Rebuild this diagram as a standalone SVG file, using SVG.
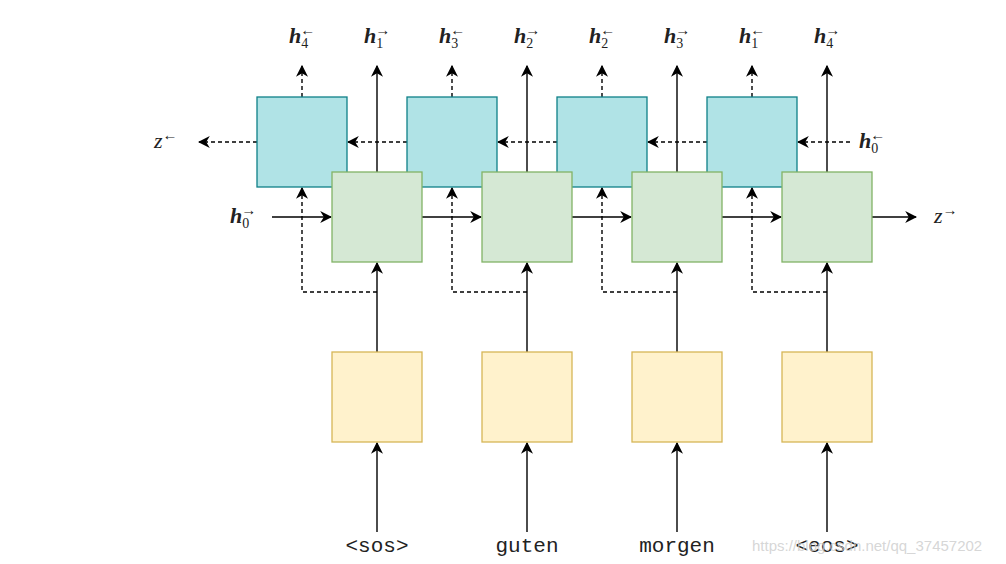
<svg xmlns="http://www.w3.org/2000/svg" width="1006" height="564" viewBox="0 0 1006 564">
<style>
.b{fill:#b0e3e6;stroke:#0e8088;stroke-width:1.3}
.g{fill:#d5e8d4;stroke:#82b366;stroke-width:1.3}
.y{fill:#fff2cc;stroke:#d6b656;stroke-width:1.3}
.s{stroke:#000;stroke-width:1.4;fill:none}
.d{stroke:#000;stroke-width:1.4;fill:none;stroke-dasharray:4 3}
.m{font-family:"Liberation Serif",serif;font-style:italic;font-weight:bold;font-size:22px;fill:#222}
.sub{font-style:normal;font-weight:normal;font-size:14px}
.ar{font-style:normal;font-weight:normal;font-size:15px}
.w{font-family:"Liberation Mono",monospace;font-size:21px;fill:#222}
</style>
<defs>
<marker id="a" viewBox="0 0 10 10" refX="9" refY="5" markerWidth="12" markerHeight="12" orient="auto" markerUnits="userSpaceOnUse"><path d="M0,0 L10,5 L0,10 L3,5 Z" fill="#000"/></marker>
</defs>
<rect width="1006" height="564" fill="#fff"/>
<g id="connectors">
<path class="d" d="M302,97V66" marker-end="url(#a)"/>
<path class="d" d="M452,97V66" marker-end="url(#a)"/>
<path class="d" d="M602,97V66" marker-end="url(#a)"/>
<path class="d" d="M752,97V66" marker-end="url(#a)"/>
<path class="s" d="M377,172V66" marker-end="url(#a)"/>
<path class="s" d="M527,172V66" marker-end="url(#a)"/>
<path class="s" d="M677,172V66" marker-end="url(#a)"/>
<path class="s" d="M827,172V66" marker-end="url(#a)"/>
<path class="d" d="M850,142H798" marker-end="url(#a)"/>
<path class="d" d="M707,142H648" marker-end="url(#a)"/>
<path class="d" d="M557,142H498" marker-end="url(#a)"/>
<path class="d" d="M407,142H348" marker-end="url(#a)"/>
<path class="d" d="M257,142H199" marker-end="url(#a)"/>
<path class="s" d="M272,217H331" marker-end="url(#a)"/>
<path class="s" d="M422,217H481" marker-end="url(#a)"/>
<path class="s" d="M572,217H631" marker-end="url(#a)"/>
<path class="s" d="M722,217H781" marker-end="url(#a)"/>
<path class="s" d="M872,217H916" marker-end="url(#a)"/>
<path class="s" d="M377,352V263" marker-end="url(#a)"/>
<path class="s" d="M527,352V263" marker-end="url(#a)"/>
<path class="s" d="M677,352V263" marker-end="url(#a)"/>
<path class="s" d="M827,352V263" marker-end="url(#a)"/>
<path class="d" d="M377,292H302V188" marker-end="url(#a)"/>
<path class="d" d="M527,292H452V188" marker-end="url(#a)"/>
<path class="d" d="M677,292H602V188" marker-end="url(#a)"/>
<path class="d" d="M827,292H752V188" marker-end="url(#a)"/>
<path class="s" d="M377,532V443" marker-end="url(#a)"/>
<path class="s" d="M527,532V443" marker-end="url(#a)"/>
<path class="s" d="M677,532V443" marker-end="url(#a)"/>
<path class="s" d="M827,532V443" marker-end="url(#a)"/>
</g>
<g id="bwd1"><rect class="b" x="257" y="97" width="90" height="90"/></g>
<g id="bwd2"><rect class="b" x="407" y="97" width="90" height="90"/></g>
<g id="bwd3"><rect class="b" x="557" y="97" width="90" height="90"/></g>
<g id="bwd4"><rect class="b" x="707" y="97" width="90" height="90"/></g>
<g id="fwd1"><rect class="g" x="332" y="172" width="90" height="90"/></g>
<g id="fwd2"><rect class="g" x="482" y="172" width="90" height="90"/></g>
<g id="fwd3"><rect class="g" x="632" y="172" width="90" height="90"/></g>
<g id="fwd4"><rect class="g" x="782" y="172" width="90" height="90"/></g>
<g id="emb1"><rect class="y" x="332" y="352" width="90" height="90"/></g>
<g id="emb2"><rect class="y" x="482" y="352" width="90" height="90"/></g>
<g id="emb3"><rect class="y" x="632" y="352" width="90" height="90"/></g>
<g id="emb4"><rect class="y" x="782" y="352" width="90" height="90"/></g>
<g id="labels" class="m">
<text x="289" y="43">h<tspan class="sub" dy="5">4</tspan><tspan class="ar" dx="-8" dy="-13">←</tspan></text>
<text x="364" y="43">h<tspan class="sub" dy="5">1</tspan><tspan class="ar" dx="-8" dy="-13">→</tspan></text>
<text x="439" y="43">h<tspan class="sub" dy="5">3</tspan><tspan class="ar" dx="-8" dy="-13">←</tspan></text>
<text x="514" y="43">h<tspan class="sub" dy="5">2</tspan><tspan class="ar" dx="-8" dy="-13">→</tspan></text>
<text x="589" y="43">h<tspan class="sub" dy="5">2</tspan><tspan class="ar" dx="-8" dy="-13">←</tspan></text>
<text x="664" y="43">h<tspan class="sub" dy="5">3</tspan><tspan class="ar" dx="-8" dy="-13">→</tspan></text>
<text x="739" y="43">h<tspan class="sub" dy="5">1</tspan><tspan class="ar" dx="-8" dy="-13">←</tspan></text>
<text x="814" y="43">h<tspan class="sub" dy="5">4</tspan><tspan class="ar" dx="-8" dy="-13">→</tspan></text>
<text x="859" y="148">h<tspan class="sub" dy="5">0</tspan><tspan class="ar" dx="-8" dy="-13">←</tspan></text>
<text x="230" y="223">h<tspan class="sub" dy="5">0</tspan><tspan class="ar" dx="-8" dy="-13">→</tspan></text>
<text x="154" y="148" font-weight="normal">z<tspan class="ar" dy="-8">←</tspan></text>
<text x="934" y="223" font-weight="normal">z<tspan class="ar" dy="-8">→</tspan></text>
</g>
<g id="inputs" class="w" text-anchor="middle">
<text x="377" y="552">&lt;sos&gt;</text>
<text x="527" y="552">guten</text>
<text x="677" y="552">morgen</text>
<text x="827" y="552">&lt;eos&gt;</text>
</g>
<text x="752" y="551" font-family="Liberation Sans,sans-serif" font-size="15" fill="#ccc" fill-opacity="0.8">https://blog.csdn.net/qq_37457202</text>
</svg>
